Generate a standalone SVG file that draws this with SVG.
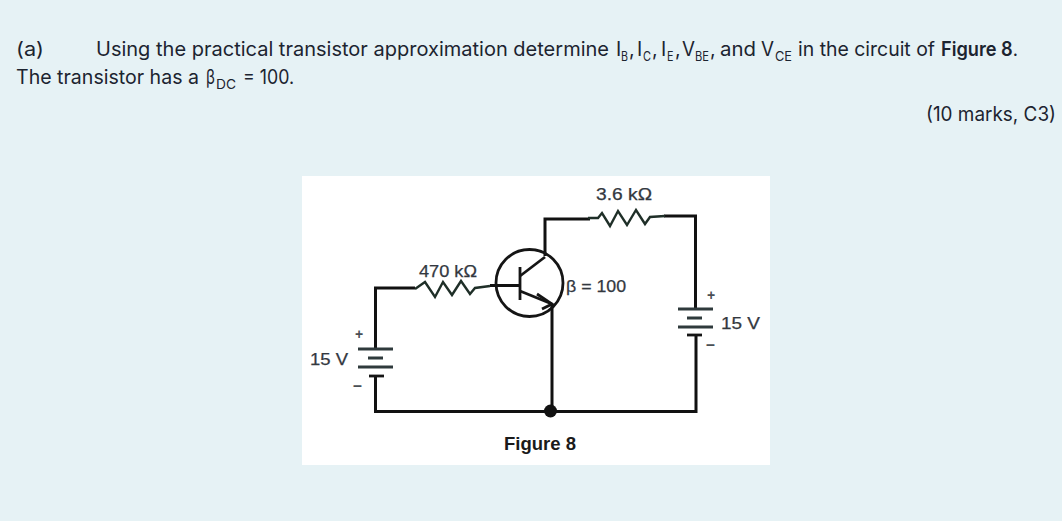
<svg xmlns="http://www.w3.org/2000/svg" width="1062" height="521" viewBox="0 0 1062 521">
<style>
.t{font-family:"Inter","Open Sans","Liberation Sans",sans-serif;font-size:19.5px;fill:#1c2430}
.s{font-family:"Inter","Open Sans","Liberation Sans",sans-serif;font-size:13px;fill:#1c2430}
.b{font-weight:600}
.c{font-family:"Liberation Sans",Arial,sans-serif;font-size:16px;fill:#33383f;stroke:#33383f;stroke-width:.25}
.m{font-family:"Liberation Sans",Arial,sans-serif;fill:#4a4f55;font-weight:700}
.w{fill:none;stroke:#111;stroke-width:3;stroke-linejoin:miter}
.r{fill:none;stroke:#1f2f28;stroke-width:2.4}
.p{fill:none;stroke:#2f3a3c;stroke-width:3}
.k{fill:none;stroke:#151515;stroke-width:2.8}
</style>
<rect width="1062" height="521" fill="#e6f2f5"/>
<g id="question">
<text class="t" x="16" y="56" textLength="28" lengthAdjust="spacingAndGlyphs">(a)</text>
<text class="t" x="96" y="56" textLength="513" lengthAdjust="spacingAndGlyphs">Using the practical transistor approximation determine</text>
<text class="t" x="616" y="56">I</text><text class="s" x="621" y="61" textLength="7" lengthAdjust="spacingAndGlyphs">B</text><text class="t" x="629" y="56">,</text>
<text class="t" x="637" y="56">I</text><text class="s" x="643" y="61" textLength="8" lengthAdjust="spacingAndGlyphs">C</text><text class="t" x="652" y="56">,</text>
<text class="t" x="661" y="56">I</text><text class="s" x="667" y="61" textLength="6.500" lengthAdjust="spacingAndGlyphs">E</text><text class="t" x="675" y="56">,</text>
<text class="t" x="682" y="56" textLength="13" lengthAdjust="spacingAndGlyphs">V</text><text class="s" x="695" y="61" textLength="14" lengthAdjust="spacingAndGlyphs">BE</text><text class="t" x="710" y="56">,</text>
<text class="t" x="720" y="56" textLength="36" lengthAdjust="spacingAndGlyphs">and</text>
<text class="t" x="761" y="56" textLength="13" lengthAdjust="spacingAndGlyphs">V</text><text class="s" x="775" y="61" textLength="17" lengthAdjust="spacingAndGlyphs">CE</text>
<text class="t" x="798" y="56" textLength="137" lengthAdjust="spacingAndGlyphs">in the circuit of</text>
<text class="t" x="941" y="56" textLength="77" lengthAdjust="spacingAndGlyphs"><tspan class="b">Figure 8</tspan>.</text>
<text class="t" x="16" y="84" textLength="183" lengthAdjust="spacingAndGlyphs">The transistor has a</text>
<text class="t" x="206" y="84" textLength="9" lengthAdjust="spacingAndGlyphs">β</text><text class="s" x="216" y="89" textLength="20" lengthAdjust="spacingAndGlyphs">DC</text>
<text class="t" x="243" y="84" textLength="51" lengthAdjust="spacingAndGlyphs">= 100.</text>
<text class="t" x="926" y="121" textLength="130" lengthAdjust="spacingAndGlyphs">(10 marks, C3)</text>
</g>
<rect x="302" y="176" width="468" height="289" fill="#fff"/>
<g id="connectors">
<path class="w" d="M415 288H375.500V349"/>
<path class="w" d="M490 285.500H520"/>
<path class="w" d="M545 256V219H590"/>
<path class="w" d="M664 216H695.500V309"/>
<path class="w" d="M552 304V411"/>
<path class="w" d="M375.500 376V411.500H696V335"/>
</g>
<g id="r-base">
<path class="r" d="M415 289L425 282L435 297L443 282L452 295L461 281L470 294L475 288L490 286"/>
<text class="c" x="419" y="277" textLength="58" lengthAdjust="spacingAndGlyphs">470 kΩ</text>
</g>
<g id="r-collector">
<path class="r" d="M588 218H598L602 213L610 226L618 211L627 225L636 210L645 224L650 217L665 216"/>
<text class="c" x="596" y="200" textLength="56" lengthAdjust="spacingAndGlyphs">3.6 kΩ</text>
</g>
<g id="transistor">
<circle class="k" cx="529.500" cy="283" r="33.500"/>
<path class="k" d="M520 267V300"/>
<path class="k" d="M520 276L545 257"/>
<path class="k" d="M520 291L552 304"/>
<path class="k" d="M537 294L552 304L542 309"/>
<text class="c" x="566" y="292" textLength="60" lengthAdjust="spacingAndGlyphs">β = 100</text>
</g>
<g id="battery-left">
<path class="p" d="M358 349H393M368 358H383M358 367H393"/>
<path class="k" d="M369 376H384"/>
<text class="c" x="310" y="365" textLength="38" lengthAdjust="spacingAndGlyphs">15 V</text>
<text class="m" x="355" y="339" font-size="14">+</text>
<text class="m" x="353" y="391" font-size="16">–</text>
</g>
<g id="battery-right">
<path class="p" d="M678 309H713M687 318H702M678 327H713"/>
<path class="k" d="M687 335H702"/>
<text class="c" x="721" y="329" textLength="39" lengthAdjust="spacingAndGlyphs">15 V</text>
<text class="m" x="707" y="300" font-size="14">+</text>
<text class="m" x="706" y="350" font-size="16">–</text>
</g>
<g id="junction"><circle cx="550.500" cy="411" r="6.500" fill="#111"/></g>
<g id="caption"><text x="504" y="450" font-family="'Liberation Sans',Arial,sans-serif" font-weight="700" font-size="18" fill="#1a1a1a" textLength="72" lengthAdjust="spacingAndGlyphs">Figure 8</text></g>
</svg>
